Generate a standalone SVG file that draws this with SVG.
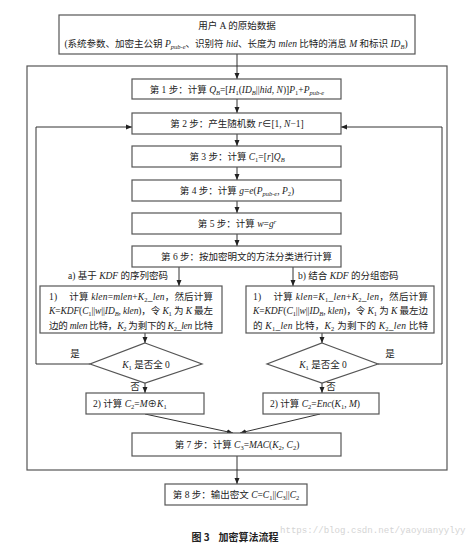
<svg xmlns="http://www.w3.org/2000/svg" width="474" height="543" viewBox="0 0 474 543">
<style>
.box{fill:#fff;stroke:#555;stroke-width:1.2}
.ln{fill:none;stroke:#333;stroke-width:1}
.t{font-family:"Liberation Serif","Noto Sans CJK SC",serif;font-size:9.5px;fill:#222}
.c{text-anchor:middle}
.i{font-style:italic}
.s{font-size:6.5px}
.cap{font-family:"Noto Sans CJK SC",sans-serif;font-size:10px;font-weight:bold;fill:#222;text-anchor:middle}
.wm{font-family:"Liberation Mono",monospace;font-size:9.1px;fill:#d4d4d4}
</style>
<defs>
<marker id="ah" markerUnits="userSpaceOnUse" markerWidth="6" markerHeight="6" viewBox="0 0 6 6" refX="6" refY="3" orient="auto">
<path d="M0,0.5 L6,3 L0,5.5 Z" fill="#222"/>
</marker>
</defs>
<rect width="474" height="543" fill="#fff"/>
<g id="outer"><rect x="27" y="66" width="420" height="404" class="box" fill="none"/></g>
<g id="connectors">
<line class="ln" x1="237" y1="54" x2="237" y2="79" marker-end="url(#ah)"/>
<line class="ln" x1="237" y1="99" x2="237" y2="113" marker-end="url(#ah)"/>
<line class="ln" x1="237" y1="134" x2="237" y2="146" marker-end="url(#ah)"/>
<line class="ln" x1="237" y1="167" x2="237" y2="180" marker-end="url(#ah)"/>
<line class="ln" x1="237" y1="201" x2="237" y2="213" marker-end="url(#ah)"/>
<line class="ln" x1="237" y1="234" x2="237" y2="246" marker-end="url(#ah)"/>
<line class="ln" x1="179" y1="267" x2="179" y2="286" marker-end="url(#ah)"/>
<line class="ln" x1="293" y1="267" x2="293" y2="286" marker-end="url(#ah)"/>
<line class="ln" x1="145" y1="333" x2="145" y2="343" marker-end="url(#ah)"/>
<line class="ln" x1="322" y1="333" x2="322" y2="343" marker-end="url(#ah)"/>
<line class="ln" x1="145" y1="383" x2="145" y2="393" marker-end="url(#ah)"/>
<line class="ln" x1="322" y1="383" x2="322" y2="393" marker-end="url(#ah)"/>
<polyline class="ln" points="90,364 36,364 36,127 132,127" marker-end="url(#ah)"/>
<polyline class="ln" points="378,364 442,364 442,127 341,127" marker-end="url(#ah)"/>
<line class="ln" x1="145" y1="414" x2="233" y2="433" marker-end="url(#ah)"/>
<line class="ln" x1="320" y1="414" x2="240" y2="433" marker-end="url(#ah)"/>
<line class="ln" x1="237" y1="456" x2="237" y2="484" marker-end="url(#ah)"/>
</g>
<g id="input">
<rect x="59" y="15" width="356" height="39" class="box"/>
<text class="t c" x="237" y="28.5">用户 A 的原始数据</text>
<text class="t c" x="236" y="46.5">(系统参数、加密主公钥 <tspan class="i">P</tspan><tspan class="s i" dy="2">pub-e</tspan><tspan dy="-2">、识别符 </tspan><tspan class="i">hid</tspan>、长度为 <tspan class="i">mlen</tspan> 比特的消息 <tspan class="i">M</tspan> 和标识 <tspan class="i">ID</tspan><tspan class="s i" dy="2">B</tspan><tspan dy="-2">)</tspan></text>
</g>
<g id="step1">
<rect x="132" y="79" width="209" height="20" class="box"/>
<text class="t c" x="237" y="92.5">第 1 步：计算 <tspan class="i">Q</tspan><tspan class="s i" dy="2">B</tspan><tspan dy="-2">=[</tspan><tspan class="i">H</tspan><tspan class="s" dy="2">1</tspan><tspan dy="-2">(</tspan><tspan class="i">ID</tspan><tspan class="s i" dy="2">B</tspan><tspan dy="-2">||</tspan><tspan class="i">hid</tspan>, <tspan class="i">N</tspan>)]<tspan class="i">P</tspan><tspan class="s" dy="2">1</tspan><tspan dy="-2">+</tspan><tspan class="i">P</tspan><tspan class="s i" dy="2">pub-e</tspan></text>
</g>
<g id="step2">
<rect x="132" y="113" width="209" height="21" class="box"/>
<text class="t c" x="237" y="127">第 2 步：产生随机数 <tspan class="i">r</tspan>∈[1, <tspan class="i">N</tspan>−1]</text>
</g>
<g id="step3">
<rect x="132" y="146" width="209" height="21" class="box"/>
<text class="t c" x="237" y="160">第 3 步：计算 <tspan class="i">C</tspan><tspan class="s" dy="2">1</tspan><tspan dy="-2">=[</tspan><tspan class="i">r</tspan>]<tspan class="i">Q</tspan><tspan class="s i" dy="2">B</tspan></text>
</g>
<g id="step4">
<rect x="132" y="180" width="209" height="21" class="box"/>
<text class="t c" x="237" y="194">第 4 步：计算 <tspan class="i">g</tspan>=<tspan class="i">e</tspan>(<tspan class="i">P</tspan><tspan class="s i" dy="2">pub-e</tspan><tspan dy="-2">, </tspan><tspan class="i">P</tspan><tspan class="s" dy="2">2</tspan><tspan dy="-2">)</tspan></text>
</g>
<g id="step5">
<rect x="132" y="213" width="209" height="21" class="box"/>
<text class="t c" x="237" y="227">第 5 步：计算 <tspan class="i">w</tspan>=<tspan class="i">g</tspan><tspan class="s i" dy="-3">r</tspan></text>
</g>
<g id="step6">
<rect x="132" y="246" width="209" height="21" class="box"/>
<text class="t" x="161" y="260">第 6 步：按加密明文的方法分类进行计算</text>
</g>
<g id="labels">
<text class="t" x="68" y="278.5">a) 基于 <tspan class="i">KDF</tspan> 的序列密码</text>
<text class="t" x="298" y="278.5">b) 结合 <tspan class="i">KDF</tspan> 的分组密码</text>
<text class="t c" x="75" y="357">是</text>
<text class="t c" x="390" y="357">是</text>
<text class="t c" x="135" y="390">否</text>
<text class="t c" x="331" y="390">否</text>
</g>
<g id="kdfA">
<rect x="40" y="286" width="182" height="47" class="box"/>
<text class="t" x="49" y="299.5" textLength="164" lengthAdjust="spacing">1)<tspan dx="12">计算 </tspan><tspan class="i">klen</tspan>=<tspan class="i">mlen</tspan>+<tspan class="i">K</tspan><tspan class="s" dy="2">2</tspan><tspan class="i" dy="-2">_len</tspan>，然后计算</text>
<text class="t" x="49" y="314" textLength="164" lengthAdjust="spacing"><tspan class="i">K</tspan>=<tspan class="i">KDF</tspan>(<tspan class="i">C</tspan><tspan class="s" dy="2">1</tspan><tspan dy="-2">||</tspan><tspan class="i">w</tspan>||<tspan class="i">ID</tspan><tspan class="s i" dy="2">B</tspan><tspan dy="-2">, </tspan><tspan class="i">klen</tspan>)，令 <tspan class="i">K</tspan><tspan class="s" dy="2">1</tspan><tspan dy="-2"> 为 </tspan><tspan class="i">K</tspan> 最左</text>
<text class="t" x="49" y="328.5" textLength="164" lengthAdjust="spacing">边的 <tspan class="i">mlen</tspan> 比特，<tspan class="i">K</tspan><tspan class="s" dy="2">2</tspan><tspan dy="-2"> 为剩下的 </tspan><tspan class="i">K</tspan><tspan class="s" dy="2">2</tspan><tspan class="i" dy="-2">_len</tspan> 比特</text>
</g>
<g id="kdfB">
<rect x="246" y="286" width="188" height="47" class="box"/>
<text class="t" x="253" y="299.5" textLength="175" lengthAdjust="spacing">1)<tspan dx="12">计算 </tspan><tspan class="i">klen</tspan>=<tspan class="i">K</tspan><tspan class="s" dy="2">1</tspan><tspan class="i" dy="-2">_len</tspan>+<tspan class="i">K</tspan><tspan class="s" dy="2">2</tspan><tspan class="i" dy="-2">_len</tspan>，然后计算</text>
<text class="t" x="253" y="314" textLength="175" lengthAdjust="spacing"><tspan class="i">K</tspan>=<tspan class="i">KDF</tspan>(<tspan class="i">C</tspan><tspan class="s" dy="2">1</tspan><tspan dy="-2">||</tspan><tspan class="i">w</tspan>||<tspan class="i">ID</tspan><tspan class="s i" dy="2">B</tspan><tspan dy="-2">, </tspan><tspan class="i">klen</tspan>)，令 <tspan class="i">K</tspan><tspan class="s" dy="2">1</tspan><tspan dy="-2"> 为 </tspan><tspan class="i">K</tspan> 最左边</text>
<text class="t" x="253" y="328.5" textLength="175" lengthAdjust="spacing">的 <tspan class="i">K</tspan><tspan class="s" dy="2">1</tspan><tspan class="i" dy="-2">_len</tspan> 比特，<tspan class="i">K</tspan><tspan class="s" dy="2">2</tspan><tspan dy="-2"> 为剩下的 </tspan><tspan class="i">K</tspan><tspan class="s" dy="2">2</tspan><tspan class="i" dy="-2">_len</tspan> 比特</text>
</g>
<g id="decisionA">
<polygon points="145,343 202,364 145,383 90,364" class="box"/>
<text class="t c" x="146" y="367.5"><tspan class="i">K</tspan><tspan class="s" dy="2">1</tspan><tspan dy="-2"> 是否全 0</tspan></text>
</g>
<g id="decisionB">
<polygon points="322,343 378,364 322,383 267,364" class="box"/>
<text class="t c" x="323" y="367.5"><tspan class="i">K</tspan><tspan class="s" dy="2">1</tspan><tspan dy="-2"> 是否全 0</tspan></text>
</g>
<g id="encA">
<rect x="86" y="393" width="118" height="21" class="box"/>
<text class="t" x="93" y="407">2) 计算 <tspan class="i">C</tspan><tspan class="s" dy="2">2</tspan><tspan dy="-2">=</tspan><tspan class="i">M</tspan>⊕<tspan class="i">K</tspan><tspan class="s" dy="2">1</tspan></text>
</g>
<g id="encB">
<rect x="263" y="393" width="116" height="21" class="box"/>
<text class="t" x="270" y="407">2) 计算 <tspan class="i">C</tspan><tspan class="s" dy="2">2</tspan><tspan dy="-2">=</tspan><tspan class="i">Enc</tspan>(<tspan class="i">K</tspan><tspan class="s" dy="2">1</tspan><tspan dy="-2">, </tspan><tspan class="i">M</tspan>)</text>
</g>
<g id="step7">
<rect x="132" y="433" width="209" height="23" class="box"/>
<text class="t c" x="237" y="448">第 7 步：计算 <tspan class="i">C</tspan><tspan class="s" dy="2">3</tspan><tspan dy="-2">=</tspan><tspan class="i">MAC</tspan>(<tspan class="i">K</tspan><tspan class="s" dy="2">2</tspan><tspan dy="-2">, </tspan><tspan class="i">C</tspan><tspan class="s" dy="2">2</tspan><tspan dy="-2">)</tspan></text>
</g>
<g id="step8">
<rect x="165" y="484" width="142" height="21" class="box"/>
<text class="t c" x="236" y="498">第 8 步：输出密文 <tspan class="i">C</tspan>=<tspan class="i">C</tspan><tspan class="s" dy="2">1</tspan><tspan dy="-2">||</tspan><tspan class="i">C</tspan><tspan class="s" dy="2">3</tspan><tspan dy="-2">||</tspan><tspan class="i">C</tspan><tspan class="s" dy="2">2</tspan></text>
</g>
<text class="wm" x="280" y="533">https://blog.csdn.net/yaoyuanyylyy</text>
<text class="cap" x="235" y="541">图 3<tspan dx="9">加密算法流程</tspan></text>
</svg>
